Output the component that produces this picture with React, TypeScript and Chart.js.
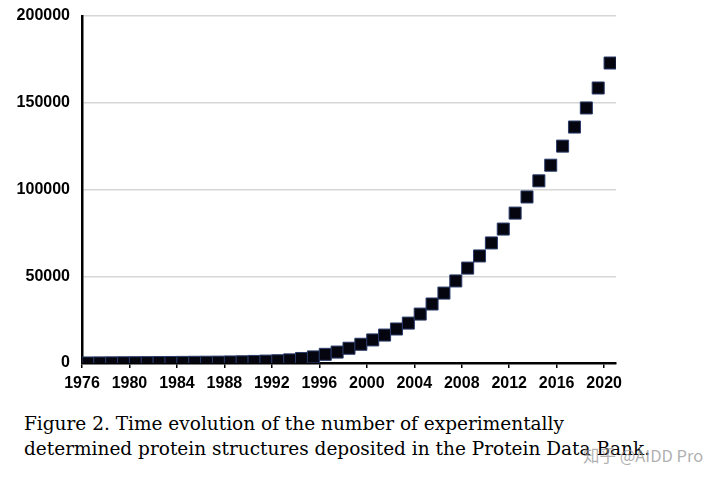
import React, { useEffect, useRef } from "react";
import { Chart, registerables } from "chart.js";

Chart.register(...registerables);

const years: number[] = [
  1976, 1977, 1978, 1979, 1980, 1981, 1982, 1983, 1984, 1985, 1986, 1987, 1988, 1989, 1990,
  1991, 1992, 1993, 1994, 1995, 1996, 1997, 1998, 1999, 2000, 2001, 2002, 2003, 2004, 2005,
  2006, 2007, 2008, 2009, 2010, 2011, 2012, 2013, 2014, 2015, 2016, 2017, 2018, 2019, 2020,
];
const structures: number[] = [
  13, 50, 90, 130, 170, 200, 250, 300, 350, 400, 450, 500, 600, 700, 900,
  1100, 1300, 1800, 2600, 3500, 5000, 6300, 8500, 10800, 13300, 16100, 19600, 23000, 28200, 34000,
  40300, 47300, 54700, 61700, 69200, 77200, 86400, 95700, 105000, 114000, 125000, 136000, 147000, 158500, 172900,
];
const xTickYears: number[] = [1976, 1980, 1984, 1988, 1992, 1996, 2000, 2004, 2008, 2012, 2016, 2020];
const yTicks: number[] = [0, 50000, 100000, 150000, 200000];
const captionLines: string[] = [
  "Figure 2. Time evolution of the number of experimentally",
  "determined protein structures deposited in the Protein Data Bank.",
];
const watermark = "知乎 @AIDD Pro";

export default function App() {
  const ref = useRef<HTMLCanvasElement | null>(null);

  useEffect(() => {
    if (!ref.current) return;
    const chart = new Chart(ref.current, {
      type: "scatter",
      data: {
        datasets: [
          {
            data: years.map((y, i) => ({ x: y + 0.5, y: structures[i] })),
            pointStyle: "rect",
            pointRadius: 8.5,
            pointHoverRadius: 8.5,
            backgroundColor: "#05050f",
            borderColor: "#2a3b6a",
            borderWidth: 1,
          },
        ],
      },
      options: {
        animation: false,
        responsive: false,
        devicePixelRatio: 1,
        layout: { padding: { left: 0, right: 101, top: 16, bottom: 0 } },
        plugins: { legend: { display: false }, tooltip: { enabled: false } },
        scales: {
          x: {
            type: "linear",
            min: 1976,
            max: 2021,
            afterBuildTicks: (axis: any) => {
              axis.ticks = xTickYears.map((v) => ({ value: v }));
            },
            afterFit: (axis: any) => {
              axis.height = 37;
              axis.paddingLeft = 0;
              axis.paddingRight = 0;
            },
            ticks: {
              autoSkip: false,
              maxRotation: 0,
              padding: 6,
              color: "#000",
              font: { family: "'Liberation Sans', Arial, sans-serif", size: 16, weight: "bold" },
              callback: (v: any) => String(v),
            },
            grid: {
              drawOnChartArea: false,
              drawTicks: true,
              tickLength: 5,
              color: "#000",
              lineWidth: 1.5,
            },
            border: { color: "#000", width: 2.5 },
          },
          y: {
            min: 0,
            max: 200000,
            afterBuildTicks: (axis: any) => {
              axis.ticks = yTicks.map((v) => ({ value: v }));
            },
            afterFit: (axis: any) => {
              axis.width = 82;
              axis.paddingTop = 0;
              axis.paddingBottom = 0;
            },
            ticks: {
              padding: 12,
              color: "#000",
              font: { family: "'Liberation Sans', Arial, sans-serif", size: 16, weight: "bold" },
              callback: (v: any) => String(v),
            },
            grid: {
              drawTicks: false,
              color: "#d6d6d6",
              lineWidth: 1.5,
            },
            border: { color: "#000", width: 2.5 },
          },
        },
      },
    });
    return () => chart.destroy();
  }, []);

  return (
    <div style={{ position: "absolute", left: 0, top: 0, width: 717, height: 485, background: "#fff", overflow: "hidden" }}>
      <canvas ref={ref} width={717} height={400} style={{ position: "absolute", left: 0, top: 0, width: 717, height: 400 }} />
      <div
        style={{
          position: "absolute",
          left: 24,
          top: 411,
          fontFamily: "'DejaVu Serif', Georgia, serif",
          fontSize: 18.5,
          lineHeight: "25px",
          color: "#000",
          whiteSpace: "nowrap",
        }}
      >
        {captionLines.map((l, i) => (
          <div key={i}>{l}</div>
        ))}
      </div>
      <div
        style={{
          position: "absolute",
          left: 583,
          top: 443,
          fontFamily: "'Noto Sans CJK SC', 'Noto Sans', sans-serif",
          fontSize: 16.5,
          color: "rgba(150,150,150,0.75)",
          whiteSpace: "nowrap",
        }}
      >
        {watermark}
      </div>
    </div>
  );
}
